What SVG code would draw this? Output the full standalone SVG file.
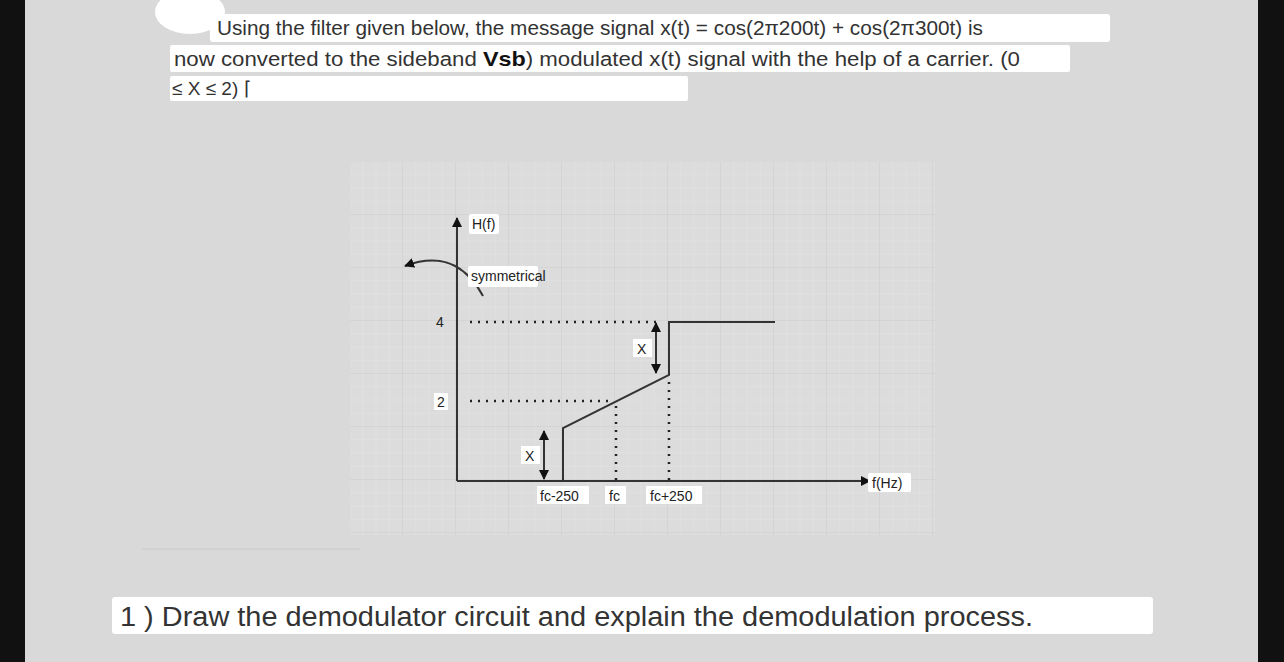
<svg xmlns="http://www.w3.org/2000/svg" width="1284" height="662" viewBox="0 0 1284 662">
<defs>
<pattern id="g" x="350" y="162" width="13.25" height="13.25" patternUnits="userSpaceOnUse"><path d="M13.25 0V13.25H0" fill="none" stroke="#e4e4e4" stroke-width="0.8"/></pattern>
<pattern id="G" x="350" y="162" width="53" height="53" patternUnits="userSpaceOnUse"><path d="M53 0V53H0" fill="none" stroke="#c8c8c8" stroke-width="1"/></pattern>
<marker id="a" markerWidth="10" markerHeight="10" refX="9" refY="5" orient="auto-start-reverse" markerUnits="userSpaceOnUse"><path d="M0 0L10 5L0 10z" fill="#111"/></marker>
</defs>
<style>
.t{font-family:"Liberation Sans",Arial,sans-serif;fill:#333}
.s{font-family:"Liberation Sans",Arial,sans-serif;fill:#222;font-size:14px}
.l{stroke:#333;stroke-width:2;fill:none}
.d{stroke:#222;stroke-width:2.5;stroke-dasharray:2 6;fill:none}
.w{fill:#fff}
</style>
<rect width="1284" height="662" fill="#d9d9d9"/>
<rect width="25" height="662" fill="#111"/>
<rect x="1258" width="26" height="662" fill="#111"/>
<ellipse cx="190" cy="12" rx="35" ry="22" fill="#fff"/>
<rect class="w" x="210" y="14" width="900" height="28" rx="3"/>
<rect class="w" x="170" y="45" width="900" height="27" rx="2"/>
<rect class="w" x="170" y="76" width="518" height="25" rx="2"/>
<text class="t" x="217" y="35" font-size="20" textLength="766" lengthAdjust="spacingAndGlyphs">Using the filter given below, the message signal x(t) = cos(2π200t) + cos(2π300t) is</text>
<text class="t" x="174" y="66" font-size="20" textLength="846" lengthAdjust="spacingAndGlyphs">now converted to the sideband  <tspan font-weight="bold" fill="#111" font-size="21">Vsb</tspan>) modulated x(t) signal with the help of a carrier. (0</text>
<text class="t" x="172" y="95" font-size="19">≤ X ≤ 2) ⌈</text>
<rect x="350" y="162" width="585" height="373" fill="#dcdcdc"/>
<rect x="350" y="162" width="585" height="373" fill="url(#g)"/>
<rect x="350" y="162" width="585" height="373" fill="url(#G)"/>
<line x1="142" y1="549" x2="360" y2="549" stroke="#c9c9c9" stroke-width="1"/>
<g id="connectors">
<line class="l" x1="457" y1="481" x2="457" y2="218" marker-end="url(#a)"/>
<line class="l" x1="457" y1="481" x2="870" y2="481" marker-end="url(#a)"/>
<path class="l" d="M563 481V428L669 375V322H775"/>
<path class="d" d="M470 322H660M470 401H614M616 406V481M669 382V481"/>
<line class="l" x1="544" y1="431" x2="544" y2="479" marker-start="url(#a)" marker-end="url(#a)"/>
<line class="l" x1="656" y1="323" x2="656" y2="373" marker-start="url(#a)" marker-end="url(#a)"/>
<path class="l" d="M483 296C470 272 448 250 405 266" marker-end="url(#a)"/>
</g>
<g id="labels">
<rect class="w" x="469" y="214" width="30" height="20" rx="2"/><text class="s" x="472" y="229">H(f)</text>
<rect class="w" x="468" y="266" width="70" height="21" rx="2"/><text class="s" x="471" y="281" font-size="11.5">symmetrical</text>
<text class="s" x="436" y="327">4</text>
<rect class="w" x="434" y="393" width="14" height="17"/><text class="s" x="437" y="407">2</text>
<rect class="w" x="521" y="446" width="19" height="18"/><text class="s" x="525" y="461">X</text>
<rect class="w" x="633" y="339" width="19" height="18"/><text class="s" x="637" y="354">X</text>
<rect class="w" x="537" y="486" width="52" height="18"/><text class="s" x="540" y="501">fc-250</text>
<rect class="w" x="605" y="486" width="21" height="18"/><text class="s" x="609" y="501">fc</text>
<rect class="w" x="646" y="486" width="56" height="18"/><text class="s" x="650" y="501">fc+250</text>
<rect class="w" x="868" y="473" width="43" height="19" rx="2"/><text class="s" x="872" y="488">f(Hz)</text>
</g>
<rect class="w" x="112" y="597" width="1041" height="37" rx="3"/>
<text class="t" x="120" y="626" font-size="27" textLength="913" lengthAdjust="spacingAndGlyphs">1   ) Draw the demodulator circuit and explain the demodulation process.</text>
</svg>
